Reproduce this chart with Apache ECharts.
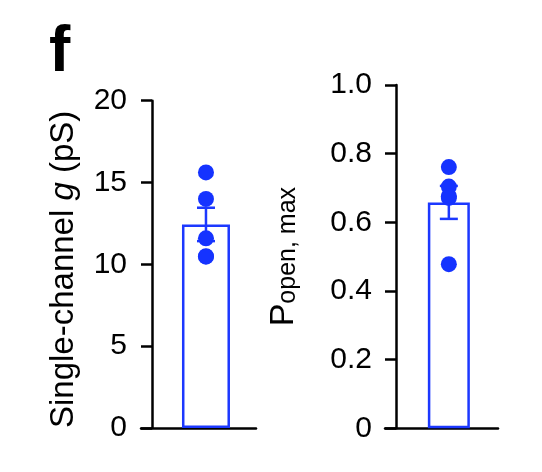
<!DOCTYPE html>
<html>
<head>
<meta charset="utf-8">
<script src="https://cdn.jsdelivr.net/npm/echarts@6/dist/echarts.min.js"></script>
<style>
html,body{margin:0;padding:0;background:#fff;}
#chart{width:542px;height:472px;}
</style>
</head>
<body>
<div id="chart"></div>
<script>
// ---- data ----
const panelLetter = 'f';
const leftAxisName = 'Single-channel g (pS)';
const leftTicks = [0, 5, 10, 15, 20];
const leftPoints = [15.62, 14.0, 11.59, 10.50, 10.47];
const leftMean = [12.44];
const leftSem = [1.02];

const rightTicks = [0, 0.2, 0.4, 0.6, 0.8, 1.0];
const rightTickLabels = ['0', '0.2', '0.4', '0.6', '0.8', '1.0'];
const rightPoints = [0.761, 0.704, 0.676, 0.671, 0.478];
const rightMean = [0.658];
const rightSem = [0.048];

// ---- layout / style constants ----
const BLUE = '#1c38ff';
const DOT = '#1533ff';
const FONT = 'Liberation Sans';
const barPos = 0.565; // horizontal position of the bar inside its axis span

const chart = echarts.init(document.getElementById('chart'));

function errRender(params, api) {
  const x = api.value(0), m = api.value(1), s = api.value(2);
  const top = api.coord([x, m + s]);
  const bot = api.coord([x, m - s]);
  const hw = 9;
  const st = {stroke: BLUE, lineWidth: 2.5};
  return {
    type: 'group',
    children: [
      {type: 'line', shape: {x1: top[0], y1: top[1], x2: bot[0], y2: bot[1]}, style: st},
      {type: 'line', shape: {x1: top[0] - hw, y1: top[1], x2: top[0] + hw, y2: top[1]}, style: st},
      {type: 'line', shape: {x1: bot[0] - hw, y1: bot[1], x2: bot[0] + hw, y2: bot[1]}, style: st}
    ]
  };
}

function yAxisCommon(idx) {
  return {
    gridIndex: idx,
    type: 'value',
    offset: -11,
    splitLine: {show: false},
    axisLine: {show: true, onZero: false, lineStyle: {color: '#000', width: 2.5}},
    axisTick: {show: true, length: 11, lineStyle: {color: '#000', width: 2.5}},
    axisLabel: {color: '#000', fontSize: 30, fontFamily: FONT, margin: 25},
    nameLocation: 'middle'
  };
}

const option = {
  backgroundColor: '#fff',
  animation: false,
  graphic: [{
    type: 'text', left: 49, top: 21,
    style: {text: panelLetter, font: 'bold 64px ' + FONT, fill: '#000'}
  }],
  grid: [
    {left: 141, width: 115, top: 100.7, height: 327.3},
    {left: 385, width: 113, top: 85, height: 343.3}
  ],
  xAxis: [0, 1].map(i => ({
    gridIndex: i, type: 'value', min: 0, max: 1,
    axisLine: {show: true, onZero: false, lineStyle: {color: '#000', width: 2.5}},
    axisTick: {show: false}, axisLabel: {show: false}, splitLine: {show: false}
  })),
  yAxis: [
    Object.assign(yAxisCommon(0), {
      min: leftTicks[0], max: leftTicks[leftTicks.length - 1], interval: leftTicks[1] - leftTicks[0],
      name: '{a|Single-channel }{i|g}{a| (pS)}',
      nameGap: 72,
      nameTextStyle: {
        padding: [0, 10, 0, 0],
        rich: {
          a: {fontSize: 33, fontFamily: FONT, color: '#000'},
          i: {fontSize: 33, fontFamily: FONT, color: '#000', fontStyle: 'italic'}
        }
      }
    }),
    Object.assign(yAxisCommon(1), {
      min: rightTicks[0], max: rightTicks[rightTicks.length - 1], interval: 0.2,
      axisLabel: {
        color: '#000', fontSize: 30, fontFamily: FONT, margin: 24,
        formatter: v => rightTickLabels[rightTicks.findIndex(t => Math.abs(t - v) < 1e-6)]
      },
      name: '{p|P}{s|open, max}',
      nameGap: 95,
      nameTextStyle: {
        rich: {
          p: {fontSize: 34, fontFamily: FONT, color: '#000', lineHeight: 34, verticalAlign: 'top'},
          s: {fontSize: 25, fontFamily: FONT, color: '#000', lineHeight: 25, padding: [19, 0, 0, 0], verticalAlign: 'bottom'}
        }
      }
    })
  ],
  series: [
    {
      type: 'bar', xAxisIndex: 0, yAxisIndex: 0, barWidth: 48,
      data: leftMean.map(v => [barPos, v]),
      itemStyle: {color: '#fff', borderColor: BLUE, borderWidth: 2.5}, z: 2
    },
    {
      type: 'custom', xAxisIndex: 0, yAxisIndex: 0, renderItem: errRender,
      data: leftMean.map((v, i) => [barPos, v, leftSem[i]]), z: 3
    },
    {
      type: 'scatter', xAxisIndex: 0, yAxisIndex: 0, symbolSize: 16,
      data: leftPoints.map(v => [barPos, v]),
      itemStyle: {color: DOT, opacity: 1}, z: 4
    },
    {
      type: 'bar', xAxisIndex: 1, yAxisIndex: 1, barWidth: 42,
      data: rightMean.map(v => [barPos, v]),
      itemStyle: {color: '#fff', borderColor: BLUE, borderWidth: 2.5}, z: 2
    },
    {
      type: 'custom', xAxisIndex: 1, yAxisIndex: 1, renderItem: errRender,
      data: rightMean.map((v, i) => [barPos, v, rightSem[i]]), z: 3
    },
    {
      type: 'scatter', xAxisIndex: 1, yAxisIndex: 1, symbolSize: 16,
      data: rightPoints.map(v => [barPos, v]),
      itemStyle: {color: DOT, opacity: 1}, z: 4
    }
  ]
};
chart.setOption(option);
</script>
</body>
</html>
